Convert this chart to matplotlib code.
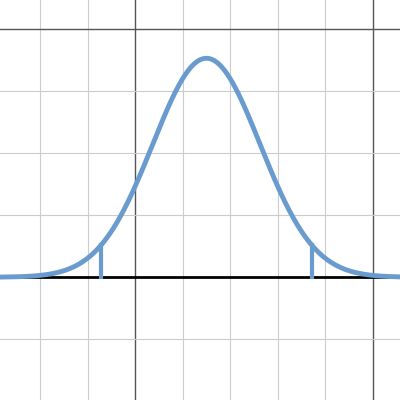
import numpy as np
import matplotlib
matplotlib.use("Agg")
import matplotlib.pyplot as plt

mu = 1.5
sigma = 1.13
z_marks = [-1.96, 1.96]
x_range = [-2.84, 5.57]
y_range = [-0.198, 0.447]

fig = plt.figure(figsize=(4, 4), dpi=100)
ax = fig.add_axes([0, 0, 1, 1])
ax.set_xlim(*x_range)
ax.set_ylim(*y_range)

for x in np.arange(-2, 6, 1):
    major = x in (0, 5)
    ax.axvline(x, color='#555555' if major else '#cccccc', lw=1.0 if major else 0.8, zorder=0)
for y in np.arange(-0.1, 0.45, 0.1):
    y = round(y, 2)
    if y == 0:
        continue
    major = abs(y - 0.4) < 1e-9
    ax.axhline(y, color='#555555' if major else '#cccccc', lw=1.0 if major else 0.8, zorder=0)
ax.axhline(0, color='black', lw=2, zorder=1)

xs = np.linspace(*x_range, 600)
pdf = lambda v: np.exp(-0.5 * ((v - mu) / sigma) ** 2) / (sigma * np.sqrt(2 * np.pi))
ax.plot(xs, pdf(xs), color='#6a9bce', lw=3.5, zorder=3, solid_capstyle='round')
for z in z_marks:
    xv = mu + z * sigma
    ax.plot([xv, xv], [0, pdf(xv)], color='#6a9bce', lw=3, zorder=3)

ax.set_xticks([]); ax.set_yticks([])
for s in ax.spines.values():
    s.set_visible(False)
fig.savefig("out.png", dpi=100)
